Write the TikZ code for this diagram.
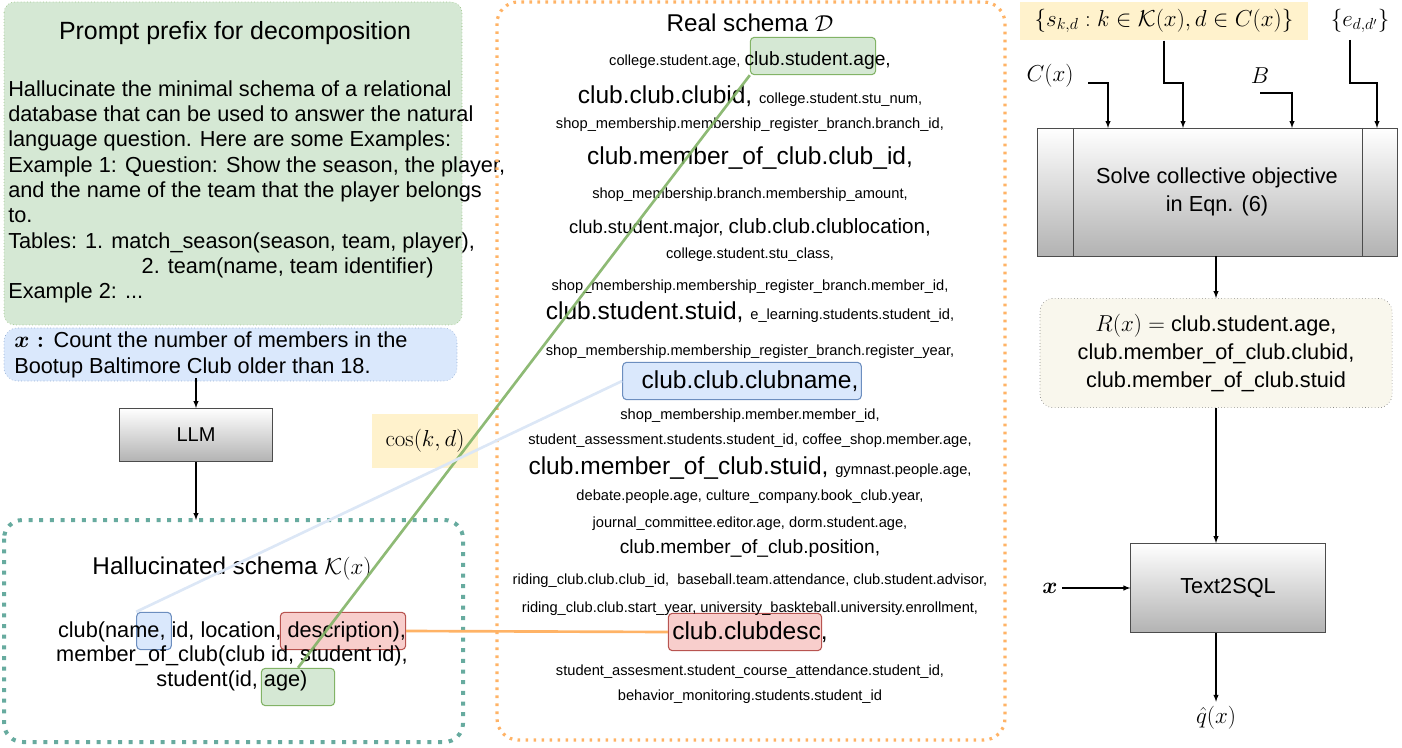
\documentclass[tikz,border=0pt]{standalone}
\usepackage{amsmath}
\usepackage{amssymb}
\usepackage[no-math]{fontspec}
\setmainfont{Liberation Sans}
\usepackage{tikz}
\usepackage{xcolor}
\definecolor{notegreen}{HTML}{D5E8D4}
\definecolor{edgegreen}{HTML}{82B366}
\definecolor{noteblue}{HTML}{DAE8FC}
\definecolor{edgeblue}{HTML}{6C8EBF}
\definecolor{notered}{HTML}{F8CECC}
\definecolor{edgered}{HTML}{B85450}
\definecolor{noteyellow}{HTML}{FFF2CC}
\definecolor{edgeteal}{HTML}{67AB9F}
\definecolor{edgeorange}{HTML}{FFB366}
\definecolor{notecream}{HTML}{F9F7ED}
\newcommand{\fsz}[1]{\fontsize{#1}{#1}\selectfont}
\tikzset{
  greybox/.style={draw=black!70,top color=white,bottom color=black!30},
  hilite/.style={rounded corners=3pt,thick},
  txt/.style={inner sep=0pt,anchor=base},
  arr/.style={->,>=latex,thick}
}
\begin{document}
\begin{tikzpicture}[x=0.75pt,y=-0.75pt]
      \useasboundingbox (0,0) rectangle (1402,748);
      % left column
      \draw [edgegreen,fill=notegreen,dotted,rounded corners=8pt] (4,2) rectangle (462,325);
      \node [txt] (ptitle) at (235,40) {\fsz{18.7}Prompt prefix for decomposition};
      \node [anchor=north west,inner sep=0pt,align=left,font=\fontsize{16.3}{19}\selectfont] (prompt) at (8,80) {%
        Hallucinate the minimal schema of a relational\\
        database that can be used to answer the natural\\
        language question. Here are some Examples:\\
        Example 1: Question: Show the season, the player,\\
        and the name of the team that the player belongs\\
        to.\\
        Tables: 1. match\_season(season, team, player),\\
        \hspace{2.6em}\phantom{Tables: }2. team(name, team identifier)\\
        Example 2: ...};
      \draw [edgeblue,fill=noteblue,dotted,rounded corners=10pt] (4,328) rectangle (457,381);
      \node [anchor=north west,inner sep=0pt,align=left,font=\fontsize{16.3}{19.5}\selectfont] (query) at (14,331) {%
        $\boldsymbol{x:}$ \,Count the number of members in the\\
        Bootup Baltimore Club older than 18.};
      \node [greybox,minimum width=115pt,minimum height=40pt] (llm) at (196,435) {\fsz{15}LLM};
      \draw [edgeteal,line width=3pt,dash pattern=on 3pt off 5pt,rounded corners=14pt] (4,520) rectangle (463,742);
      \node [txt] (htitle) at (232,574) {\fsz{18.2}Hallucinated schema $\mathcal{K}(x)$};
      \node [draw=edgeblue,fill=noteblue,hilite,minimum width=26pt,minimum height=28pt] (kname) at (154,631) {};
      \node [draw=edgered,fill=notered,hilite,minimum width=94pt,minimum height=28pt] (kdesc) at (343,631) {};
      \node [draw=edgegreen,fill=notegreen,hilite,minimum width=55pt,minimum height=28pt] (kage) at (298,687) {};
      \node [txt] (hline1) at (232,637) {\fsz{16.3}club(name, id, location, description),};
      \node [txt] (hline2) at (232,661) {\fsz{16.3}member\_of\_club(club id, student id),};
      \node [txt] (hline3) at (232,686) {\fsz{16.3}student(id, age)};
      \node [fill=noteyellow,minimum width=80pt,minimum height=41pt] (cosbox) at (425,441) {\fsz{16.5}$\cos(k,d)$};
      \draw [arr] (query.south -| llm) -- (llm);
      \draw [arr] (llm) -- (llm |- 0,520);
      % real schema
      \draw [edgeorange,line width=2.4pt,dash pattern=on 2pt off 4pt,rounded corners=16pt] (497,2) rectangle (1005,740);
      \node [draw=edgegreen,fill=notegreen,hilite,minimum width=94pt,minimum height=28pt] (dage) at (813,56) {};
      \node [draw=edgeblue,fill=noteblue,hilite,minimum width=179pt,minimum height=28pt] (dname) at (742,381) {};
      \node [draw=edgered,fill=notered,hilite,minimum width=115pt,minimum height=28pt] (ddesc) at (745,632) {};
      \node [txt] (rtitle) at (750,32) {\fsz{18.2}Real schema $\mathcal{D}$};
      \node [txt] at (750,66) {\fsz{11}college.student.age, \fsz{14.4}club.student.age,};
      \node [txt] at (750,104) {\fsz{18.4}club.club.clubid, \fsz{11}college.student.stu\_num,};
      \node [txt] at (750,129) {\fsz{11}shop\_membership.membership\_register\_branch.branch\_id,};
      \node [txt] at (750,165) {\fsz{18.4}club.member\_of\_club.club\_id,};
      \node [txt] at (750,199) {\fsz{11}shop\_membership.branch.membership\_amount,};
      \node [txt] at (750,234) {\fsz{13.8}club.student.major, \fsz{15.5}club.club.clublocation,};
      \node [txt] at (750,259) {\fsz{11}college.student.stu\_class,};
      \node [txt] at (750,291) {\fsz{11}shop\_membership.membership\_register\_branch.member\_id,};
      \node [txt] at (750,320) {\fsz{18.4}club.student.stuid, \fsz{11}e\_learning.students.student\_id,};
      \node [txt] at (750,356) {\fsz{11}shop\_membership.membership\_register\_branch.register\_year,};
      \node [txt] at (750,388) {\fsz{18.4}club.club.clubname,};
      \node [txt] at (750,419) {\fsz{11}shop\_membership.member.member\_id,};
      \node [txt] at (750,444) {\fsz{11}student\_assessment.students.student\_id, coffee\_shop.member.age,};
      \node [txt] at (750,474) {\fsz{18.4}club.member\_of\_club.stuid, \fsz{11}gymnast.people.age,};
      \node [txt] at (750,500) {\fsz{11}debate.people.age, culture\_company.book\_club.year,};
      \node [txt] at (750,527) {\fsz{11}journal\_committee.editor.age, dorm.student.age,};
      \node [txt] at (750,553) {\fsz{14.4}club.member\_of\_club.position,};
      \node [txt] at (750,584) {\fsz{11}riding\_club.club.club\_id, \ baseball.team.attendance, club.student.advisor,};
      \node [txt] at (750,612) {\fsz{11}riding\_club.club.start\_year, university\_baskteball.university.enrollment,};
      \node [txt] at (750,639) {\fsz{18.4}club.clubdesc,};
      \node [txt] at (750,675) {\fsz{11}student\_assesment.student\_course\_attendance.student\_id,};
      \node [txt] at (750,700) {\fsz{11}behavior\_monitoring.students.student\_id};
      % matches
      \draw [edgegreen,line width=2pt,opacity=.9] (kage.north) -- (dage.south west);
      \draw [noteblue!80!edgeblue!60,line width=2pt] (kname.north west) -- (dname.west);
      \draw [edgeorange,line width=2pt] (kdesc.east) -- (ddesc.west);
      % right column
      \node [fill=noteyellow,minimum width=216pt,minimum height=29pt] (scores) at (1164,21) {\fsz{16.5}$\{s_{k,d}: k\in\mathcal{K}(x), d\in C(x)\}$};
      \node (edges) at (1360,21) {\fsz{16.5}$\{e_{d,d'}\}$};
      \node (cands) at (1050,76) {\fsz{16.5}$C(x)$};
      \node (budget) at (1260,76) {\fsz{16.5}$B$};
      \node [greybox,minimum width=270pt,minimum height=96pt] (solve) at (1217,192) {};
      \draw [black!70] (1073,128) -- (1073,256) (1362,128) -- (1362,256);
      \node [align=center,font=\fontsize{16.3}{21}\selectfont] at (solve) {Solve collective objective\\in Eqn. (6)};
      \draw [arr] (1088,83) -- (1108,83) -- (1108,128);
      \draw [arr] (scores.south) -- (1164,83) -- (1183,83) -- (1183,128);
      \draw [arr] (1260,93) -- (1292,93) -- (1292,128);
      \draw [arr] (1350,40) -- (1350,83) -- (1377,83) -- (1377,128);
      \node [draw=black!70,fill=notecream,dotted,rounded corners=10pt,minimum width=264pt,minimum height=82pt,align=center,font=\fontsize{16.3}{21}\selectfont] (result) at (1216,353)
        {$R(x) =$ club.student.age,\\club.member\_of\_club.clubid,\\club.member\_of\_club.stuid};
      \node [greybox,minimum width=146pt,minimum height=67pt] (sql) at (1228,588) {\fsz{16.3}Text2SQL};
      \node (xin) at (1050,588) {\fsz{16.5}$\boldsymbol{x}$};
      \node (qhat) at (1216,718) {\fsz{16.5}$\hat{q}(x)$};
      \draw [arr] (solve.south -| result) -- (result);
      \draw [arr] (result) -- (result |- sql.north);
      \draw [arr] (xin) -- (sql);
      \draw [arr] (sql.south -| result) -- (qhat);
\end{tikzpicture}
\end{document}
